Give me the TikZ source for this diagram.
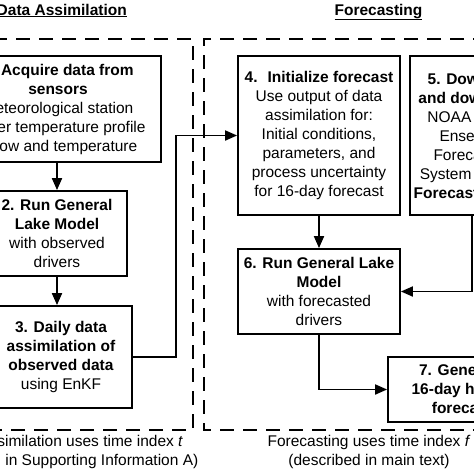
\documentclass[tikz,border=0pt]{standalone}
\usepackage{fontspec}
\setmainfont{Liberation Sans}
\usetikzlibrary{arrows.meta}
\begin{document}
\begin{tikzpicture}[x=1pt,y=-1pt,
  txt/.style={font=\fontsize{15.5}{19}\selectfont, align=center, inner sep=0pt},
  box/.style={txt, draw, line width=1.8pt},
  arr/.style={line width=1.8pt, -{Triangle[length=12pt,width=10pt]}},
  region/.style={line width=1.8pt, dash pattern=on 14pt off 9pt},
  ttl/.style={font=\fontsize{15.5}{19}\selectfont\bfseries, inner sep=0pt}
]
\useasboundingbox (0,0) rectangle (474,474);
\clip (0,0) rectangle (474,474);
\fill[white] (0,0) rectangle (474,474);

% regions
\draw[region] (-30,39) -- (193,39) -- (193,430) -- (-30,430);
\draw[region] (510,39) -- (204,39) -- (204,430) -- (510,430);

% titles
\node[ttl, anchor=base east] (t1) at (127,15) {\underline{Data Assimilation}};
\node[ttl, anchor=base] (t2) at (378.5,15) {\underline{Forecasting}};

% boxes
\node[box, minimum width=206pt, minimum height=106pt] (b1) at (58,109)
  {\textbf{1. Acquire data from}\\\textbf{sensors}\\Meteorological station\\Water temperature profile\\Inflow and temperature};
\node[box, minimum width=140pt, minimum height=85pt] (b2) at (57,233.5)
  {\textbf{2. Run General}\\\textbf{Lake Model}\\with observed\\drivers};
\node[box, minimum width=142pt, minimum height=102pt] (b3) at (61,357)
  {\textbf{3. Daily data}\\\textbf{assimilation of}\\\textbf{observed data}\\using EnKF};
\node[box, minimum width=162pt, minimum height=159pt] (b4) at (319,135.5)
  {\textbf{4.~ Initialize forecast}\\Use output of data\\assimilation for:\\Initial conditions,\\parameters, and\\process uncertainty\\for 16-day forecast};
\node[box, minimum width=128pt, minimum height=159pt] (b5) at (474,135.5)
  {\textbf{5. Download}\\\textbf{and downscale}\\NOAA Global\\Ensemble\\Forecasting\\System (GEFS)\\\textbf{Forecast drivers}};
\node[box, minimum width=162pt, minimum height=85pt] (b6) at (319,291.5)
  {\textbf{6. Run General Lake}\\\textbf{Model}\\with forecasted\\drivers};
\node[box, minimum width=148pt, minimum height=65pt] (b7) at (462,389.5)
  {\textbf{7. Generate}\\\textbf{16-day hourly}\\\textbf{forecast}};

% connectors
\draw[arr] (b2.north |- b1.south) -- (b2.north);
\draw[arr] (b2.south) -- (b2.south |- b3.north);
\draw[arr] (b3.east) -- ([xshift=43pt]b3.east) |- (b4.west);
\draw[arr] (b4.south) -- (b6.north);
\draw[arr] ([xshift=-2pt]b5.south) |- (b6.east);
\draw[arr] (b6.south) |- (b7.west);

% footers
\node[txt] (f1) at (63.5,452) {Data assimilation uses time index \textit{t}\\(described in Supporting Information A)};
\node[txt] (f2) at (369,452) {Forecasting uses time index \textit{f}\\(described in main text)};
\end{tikzpicture}
\end{document}
